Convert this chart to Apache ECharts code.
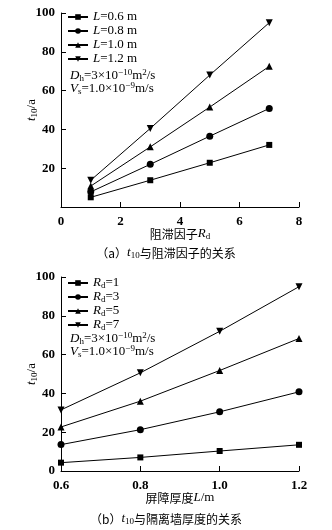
<!DOCTYPE html>
<html><head><meta charset="utf-8">
<script src="https://cdn.jsdelivr.net/npm/echarts@6/dist/echarts.min.js"></script>
<style>html,body{margin:0;padding:0;background:#fff}#c{width:332px;height:530px}</style>
</head><body><div id="c"></div>
<script>
// ---- data ----
const rdValues = [1, 3, 5, 7];
const seriesL06 = [5.0, 13.8, 22.8, 32.0];
const seriesL08 = [7.8, 22.0, 36.5, 50.8];
const seriesL10 = [10.8, 31.0, 51.5, 72.5];
const seriesL12 = [13.8, 40.5, 68.0, 95.0];
const lNamesA = ['0.6', '0.8', '1.0', '1.2'];

const thickValues = [0.6, 0.8, 1.0, 1.2];
const seriesRd1 = [4.3, 7.0, 10.3, 13.5];
const seriesRd3 = [13.6, 21.3, 30.5, 40.8];
const seriesRd5 = [22.7, 36.0, 51.8, 68.3];
const seriesRd7 = [31.5, 50.6, 72.0, 95.0];
const rdNamesB = ['1', '3', '5', '7'];

const xTicksA = [0, 2, 4, 6, 8];
const yTicks = [0, 20, 40, 60, 80, 100];

const FONT = "'Liberation Serif','Noto Sans CJK SC',serif";
const invTri = 'path://M0,0 L10,0 L5,9 Z';
const symbols = ['rect', 'circle', 'triangle', invTri];
const symSizes = [6, 7, 7, 7];

const rich = {
  n: {fontFamily: FONT, fontSize: 13, fontWeight: 'normal', color: '#000', lineHeight: 14},
  i: {fontFamily: FONT, fontSize: 13, fontWeight: 'normal', fontStyle: 'italic', color: '#000', lineHeight: 14},
  s: {fontFamily: FONT, fontSize: 9, fontWeight: 'normal', color: '#000', lineHeight: 14, verticalAlign: 'bottom', padding: [4, 0, 0, 0]},
  p: {fontFamily: FONT, fontSize: 9, fontWeight: 'normal', color: '#000', lineHeight: 14, padding: [0, 0, 6, 0]},
  cn: {fontFamily: "'Noto Sans CJK SC',sans-serif", fontSize: 12, fontWeight: 'normal', color: '#000', lineHeight: 14}
};

function mk(xs, ys) { return xs.map((x, i) => [x, ys[i]]); }

const aData = [seriesL06, seriesL08, seriesL10, seriesL12];
const bData = [seriesRd1, seriesRd3, seriesRd5, seriesRd7];
const series = [];
aData.forEach((d, k) => series.push({
  name: 'L=' + lNamesA[k] + ' m', type: 'line', xAxisIndex: 0, yAxisIndex: 0,
  data: mk(rdValues, d), symbol: symbols[k], symbolSize: symSizes[k],
  lineStyle: {color: '#000', width: 1}, itemStyle: {color: '#000'}, animation: false
}));
bData.forEach((d, k) => series.push({
  name: 'Rd=' + rdNamesB[k], type: 'line', xAxisIndex: 1, yAxisIndex: 1,
  data: mk(thickValues, d), symbol: symbols[k], symbolSize: symSizes[k],
  lineStyle: {color: '#000', width: 1}, itemStyle: {color: '#000'}, animation: false
}));

const axisCommon = {
  axisLine: {lineStyle: {color: '#000', width: 1}},
  axisTick: {inside: true, length: 5, lineStyle: {color: '#000'}},
  splitLine: {show: false},
  axisLabel: {color: '#000', fontFamily: FONT, fontSize: 13, fontWeight: 'bold'},
  nameMoveOverlap: false
};

function legendOf(names, top, fmt) {
  return {
    data: names, orient: 'vertical', left: 67, top: top, itemWidth: 20, itemHeight: 7,
    itemGap: 0, padding: 0, selectedMode: false,
    textStyle: {rich: rich, fontFamily: FONT, fontSize: 13, color: '#000', lineHeight: 14},
    formatter: fmt
  };
}

const option = {
  backgroundColor: '#fff',
  animation: false,
  grid: [
    {left: 61, right: 33, top: 13, height: 194},
    {left: 61, right: 33, top: 277, height: 194}
  ],
  xAxis: [
    Object.assign({}, axisCommon, {
      gridIndex: 0, type: 'value', min: xTicksA[0], max: xTicksA[xTicksA.length - 1], interval: 2,
      name: '{cn|阻滞因子}{i|R}{s|d}', nameLocation: 'middle', nameGap: 20,
      nameTextStyle: {rich: rich}
    }),
    Object.assign({}, axisCommon, {
      gridIndex: 1, type: 'value', min: thickValues[0], max: thickValues[thickValues.length - 1], interval: 0.2,
      axisLabel: Object.assign({}, axisCommon.axisLabel, {formatter: v => v.toFixed(1)}),
      name: '{cn|屏障厚度}{i|L}{n|/m}', nameLocation: 'middle', nameGap: 20,
      nameTextStyle: {rich: rich}
    })
  ],
  yAxis: [
    Object.assign({}, axisCommon, {
      gridIndex: 0, type: 'value', min: yTicks[0], max: yTicks[yTicks.length - 1], interval: 20,
      axisLabel: Object.assign({}, axisCommon.axisLabel, {showMinLabel: false, margin: 6}),
      name: '{i|t}{s|10}{n|/a}', nameLocation: 'middle', nameGap: 22, nameRotate: 90,
      nameTextStyle: {rich: rich}
    }),
    Object.assign({}, axisCommon, {
      gridIndex: 1, type: 'value', min: yTicks[0], max: yTicks[yTicks.length - 1], interval: 20,
      axisLabel: Object.assign({}, axisCommon.axisLabel, {margin: 6}),
      name: '{i|t}{s|10}{n|/a}', nameLocation: 'middle', nameGap: 22, nameRotate: 90,
      nameTextStyle: {rich: rich}
    })
  ],
  legend: [
    legendOf(series.slice(0, 4).map(s => s.name), 10, n => '{i|L}{n|' + n.slice(1) + '}'),
    legendOf(series.slice(4).map(s => s.name), 276, n => '{i|R}{s|d}{n|' + n.slice(2) + '}')
  ],
  title: [
    {left: 70, top: 69, padding: 0, text: '{i|D}{s|h}{n|=3×10}{p|−10}{n|m}{p|2}{n|/s}', textStyle: {rich: rich, fontWeight: 'normal'}},
    {left: 70, top: 82, padding: 0, text: '{i|V}{s|s}{n|=1.0×10}{p|−9}{n|m/s}', textStyle: {rich: rich, fontWeight: 'normal'}},
    {left: 70, top: 332, padding: 0, text: '{i|D}{s|h}{n|=3×10}{p|−10}{n|m}{p|2}{n|/s}', textStyle: {rich: rich, fontWeight: 'normal'}},
    {left: 70, top: 345, padding: 0, text: '{i|V}{s|s}{n|=1.0×10}{p|−9}{n|m/s}', textStyle: {rich: rich, fontWeight: 'normal'}},
    {left: 'center', top: 246, padding: 0, text: '{cn|（a）}{i|t}{s|10}{cn|与阻滞因子的关系}', textStyle: {rich: rich, fontWeight: 'normal'}},
    {left: 'center', top: 512, padding: 0, text: '{cn|（b）}{i|t}{s|10}{cn|与隔离墙厚度的关系}', textStyle: {rich: rich, fontWeight: 'normal'}}
  ],
  series: series
};

const chart = echarts.init(document.getElementById('c'), null, {renderer: 'canvas'});
chart.setOption(option);
</script>
</body></html>
